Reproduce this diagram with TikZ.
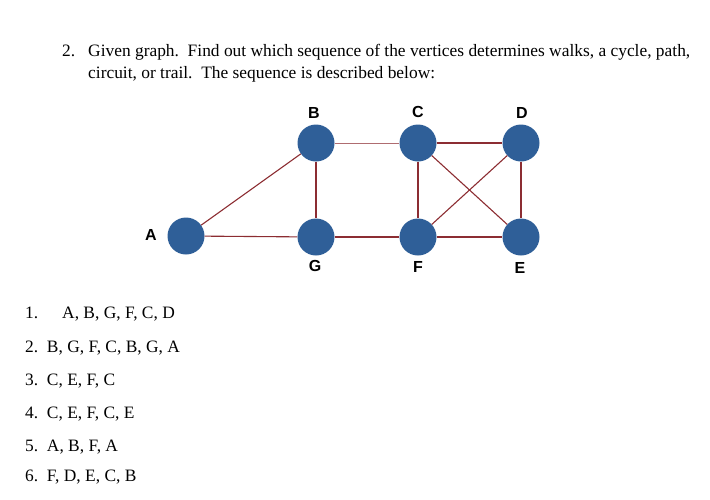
\documentclass[tikz,border=0pt]{standalone}
\usepackage{fontspec}
\setmainfont{Liberation Serif}
\newfontfamily\lab{Liberation Sans}
\begin{document}
\begin{tikzpicture}[x=1pt,y=-1pt,
  vert/.style={circle,fill=vcol,minimum size=37pt,inner sep=0pt},
  edge/.style={draw=ecol,line width=1.1pt},
  thin/.style={draw=ecol!70,line width=0.8pt},
  vlab/.style={font=\lab\bfseries\fontsize{16}{17}\selectfont},
  txt/.style={anchor=base west,inner sep=0pt,font=\fontsize{17.4}{20}\selectfont}]
\definecolor{vcol}{RGB}{47,95,152}
\definecolor{ecol}{RGB}{140,45,50}
\useasboundingbox (0,0) rectangle (710,499);
\node[vert] (A) at (186,236) {};
\node[vert] (B) at (316,143) {};
\node[vert] (C) at (418,143) {};
\node[vert] (D) at (521,143) {};
\node[vert] (G) at (316,237) {};
\node[vert] (F) at (418,237) {};
\node[vert] (E) at (521,237) {};
\draw[edge] (A) -- (B);
\draw[edge] (A) -- (G);
\draw[edge] (B) -- (G);
\draw[thin] (B) -- (C);
\draw[edge] (C) -- (D);
\draw[edge] (C) -- (F);
\draw[edge] (C) -- (E);
\draw[edge] (D) -- (F);
\draw[edge] (D) -- (E);
\draw[edge] (G) -- (F);
\draw[edge] (F) -- (E);
\node[vlab] (lA) at (151,235) {A};
\node[vlab] (lB) at (314,113) {B};
\node[vlab] (lC) at (418,112) {C};
\node[vlab] (lD) at (522,113) {D};
\node[vlab] (lG) at (315,266) {G};
\node[vlab] (lF) at (418,267) {F};
\node[vlab] (lE) at (520,268) {E};
\node[txt] (h1) at (62,56) {2.};
\node[txt] (h2) at (88,56) {Given graph.\ \ Find out which sequence of the vertices determines walks, a cycle, path,};
\node[txt] (h3) at (88,78) {circuit, or trail.\ \ The sequence is described below:};
\node[txt] (n1) at (25,318) {1.};
\node[txt] (t1) at (62,318) {A, B, G, F, C, D};
\node[txt] (n2) at (25,352) {2.\ \ B, G, F, C, B, G, A};
\node[txt] (n3) at (25,385) {3.\ \ C, E, F, C};
\node[txt] (n4) at (25,418) {4.\ \ C, E, F, C, E};
\node[txt] (n5) at (25,451) {5.\ \ A, B, F, A};
\node[txt] (n6) at (25,481) {6.\ \ F, D, E, C, B};
\end{tikzpicture}
\end{document}
